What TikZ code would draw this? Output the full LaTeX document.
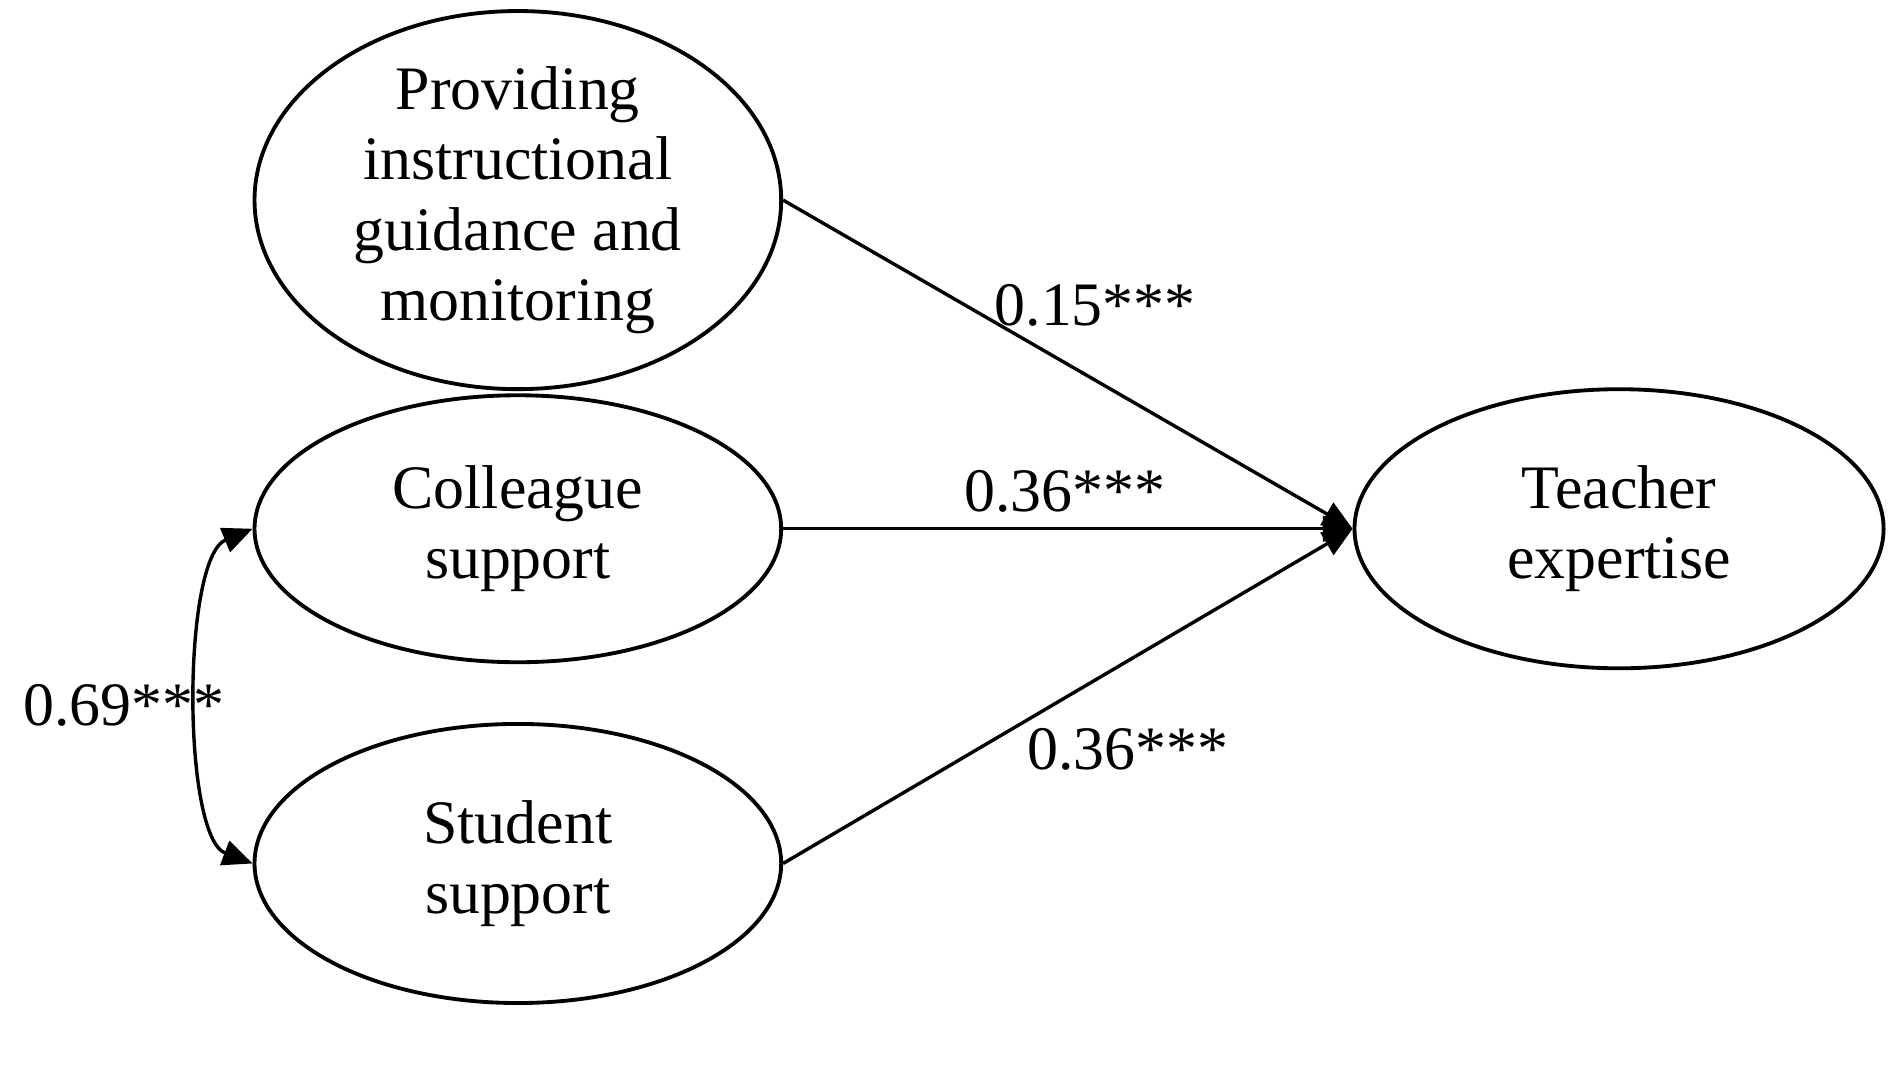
\documentclass[tikz,border=0pt]{standalone}
\usepackage{fontspec}
\setmainfont{Liberation Serif}
\usetikzlibrary{shapes.geometric,arrows.meta}
\begin{document}
\begin{tikzpicture}[x=0.01cm,y=-0.01cm,
  lat/.style={draw,ellipse,line width=0.9pt,inner sep=0pt,align=center,font=\fontsize{14.5}{16.5}\selectfont},
  lab/.style={font=\fontsize{14.5}{16.5}\selectfont},
  pth/.style={line width=0.8pt,-{Triangle[length=7pt,width=6pt]}}]
\useasboundingbox (0,0) rectangle (1565,880);
\node[lat,minimum width=434\pgflinewidth*0+4.34cm,minimum height=2.2cm] (p) at (427,165) {Providing\\instructional\\guidance and\\monitoring};
\node[lat,minimum width=4.34cm,minimum height=2.2cm] (c) at (427,436) {Colleague\\support};
\node[lat,minimum width=4.34cm,minimum height=2.3cm] (s) at (427,712) {Student\\support};
\node[lat,minimum width=4.36cm,minimum height=2.3cm] (t) at (1335,436) {Teacher\\expertise};
\draw[pth] (p.east) -- (t.west);
\draw[pth] (c.east) -- (t.west);
\draw[pth] (s.east) -- (t.west);
\draw[line width=0.8pt,{Triangle[length=7pt,width=6pt]}-{Triangle[length=7pt,width=6pt]}] (c.west) .. controls (150,460) and (150,690) .. (s.west);
\node[lab] (l1) at (903,252) {0.15***};
\node[lab] (l2) at (878,405) {0.36***};
\node[lab] (l3) at (930,618) {0.36***};
\node[lab] (l4) at (102,582) {0.69***};
\end{tikzpicture}
\end{document}
